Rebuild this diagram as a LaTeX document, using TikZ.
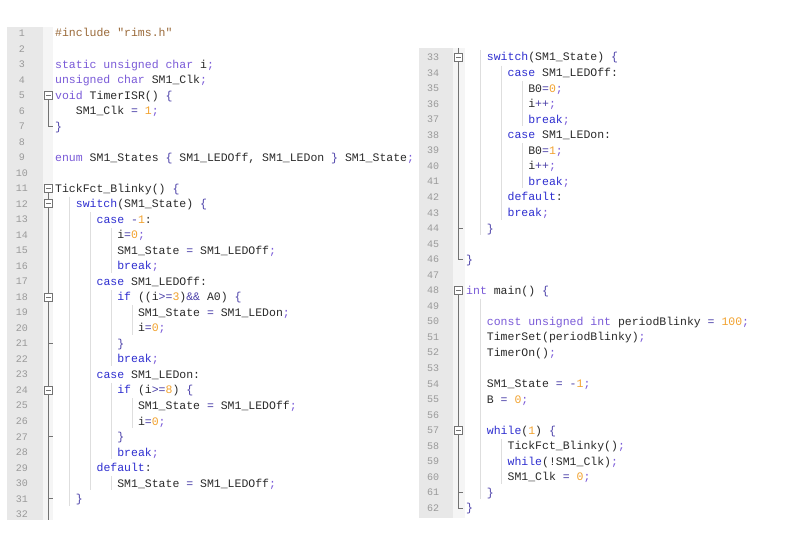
\documentclass[tikz,border=0pt]{standalone}
\usepackage{fontspec}
\newfontfamily\codefont{Liberation Mono}
\definecolor{kwc}{HTML}{2E2ED0}
\definecolor{tyc}{HTML}{7A5AD8}
\definecolor{nmc}{HTML}{F2A22E}
\definecolor{ppc}{HTML}{9A6A3A}
\definecolor{opc}{HTML}{4A3FA8}
\definecolor{txc}{HTML}{2A2A2A}
\definecolor{lnc}{HTML}{9A9A9A}
\newcommand\Kw[1]{\textcolor{kwc}{#1}}
\newcommand\Ty[1]{\textcolor{tyc}{#1}}
\newcommand\Nm[1]{\textcolor{nmc}{#1}}
\newcommand\Op[1]{\textcolor{opc}{#1}}
\newcommand\Sc{\textcolor{tyc}{;}}
\tikzset{
  codeln/.style={anchor=base west,inner sep=0pt,font=\codefont\fontsize{11.5}{12}\selectfont,text=txc},
  lnum/.style={anchor=base,inner sep=0pt,font=\codefont\fontsize{10}{11}\selectfont,text=lnc},
  foldln/.style={draw=black!55,line width=0.6pt},
  guide/.style={draw=black!13,line width=0.6pt},
  foldbox/.style={draw=black!55,fill=white,line width=0.6pt}
}
\begin{document}
\begin{tikzpicture}[x=1pt,y=-1pt]
\useasboundingbox (0,0) rectangle (807,535);
\fill[white] (0,0) rectangle (807,535);
% gutters
\fill[black!9] (7,27) rectangle (43,520);
\fill[black!4] (43,27) rectangle (53,520);
\fill[black!9] (419,48) rectangle (453,518);
\fill[black!4] (453,48) rectangle (465,518);
% ---- left panel
\def\LY#1{33+(#1-1)*15.52}
\def\CX#1{55+#1*6.9}
\foreach \n in {1,...,32} \node[lnum] (ln\n) at (22,{\LY{\n}+3.5}) {\n};
% guides
\foreach \c/\a/\b in {3/12/31,6/13/30,9/14/16,9/18/22,9/24/28,9/30/30,12/19/20,12/25/26}
  \draw[guide] ({\CX{\c}-6},{\LY{\a}-7}) -- ({\CX{\c}-6},{\LY{\b}+7});
% fold markers
\coordinate (fa) at (48.5,{\LY{5}});
\draw[foldln] (fa) -- (48.5,{\LY{7}}) -- (53,{\LY{7}});
\draw[foldln] (48.5,{\LY{11}}) -- (48.5,520);
\foreach \l in {21,27,31} \draw[foldln] (48.5,{\LY{\l}}) -- (52.5,{\LY{\l}});
\foreach \l in {5,11,12,18,24}{
  \draw[foldbox] (44.5,{\LY{\l}-4}) rectangle (52.5,{\LY{\l}+4});
  \draw[foldln] (46.3,{\LY{\l}}) -- (50.7,{\LY{\l}});}
% code
\def\L#1#2#3{\node[codeln] (c#1) at ({\CX{#2}},{\LY{#1}+4}) {#3};}
\L{1}{0}{\textcolor{ppc}{\#include "rims.h"}}
\L{3}{0}{\Ty{static unsigned char} i\Sc}
\L{4}{0}{\Ty{unsigned char} SM1\_Clk\Sc}
\L{5}{0}{\Ty{void} TimerISR() \Op{\{}}
\L{6}{3}{SM1\_Clk \Op{=} \Nm{1}\Sc}
\L{7}{0}{\Op{\}}}
\L{9}{0}{\Ty{enum} SM1\_States \Op{\{} SM1\_LEDOff, SM1\_LEDon \Op{\}} SM1\_State\Sc}
\L{11}{0}{TickFct\_Blinky() \Op{\{}}
\L{12}{3}{\Kw{switch}(SM1\_State) \Op{\{}}
\L{13}{6}{\Kw{case} \Op{-}\Nm{1}:}
\L{14}{9}{i\Op{=}\Nm{0}\Sc}
\L{15}{9}{SM1\_State \Op{=} SM1\_LEDOff\Sc}
\L{16}{9}{\Kw{break}\Sc}
\L{17}{6}{\Kw{case} SM1\_LEDOff:}
\L{18}{9}{\Kw{if} ((i\Op{>=}\Nm{3})\Op{\&\&} A0) \Op{\{}}
\L{19}{12}{SM1\_State \Op{=} SM1\_LEDon\Sc}
\L{20}{12}{i\Op{=}\Nm{0}\Sc}
\L{21}{9}{\Op{\}}}
\L{22}{9}{\Kw{break}\Sc}
\L{23}{6}{\Kw{case} SM1\_LEDon:}
\L{24}{9}{\Kw{if} (i\Op{>=}\Nm{8}) \Op{\{}}
\L{25}{12}{SM1\_State \Op{=} SM1\_LEDOff\Sc}
\L{26}{12}{i\Op{=}\Nm{0}\Sc}
\L{27}{9}{\Op{\}}}
\L{28}{9}{\Kw{break}\Sc}
\L{29}{6}{\Kw{default}:}
\L{30}{9}{SM1\_State \Op{=} SM1\_LEDOff\Sc}
\L{31}{3}{\Op{\}}}
% ---- right panel
\def\LY#1{57+(#1-33)*15.55}
\def\CX#1{466+#1*6.9}
\foreach \n in {33,...,62} \node[lnum] (ln\n) at (433,{\LY{\n}+3.5}) {\n};
\foreach \c/\a/\b in {3/33/44,6/34/43,9/35/37,9/39/41,3/49/61,6/58/60}
  \draw[guide] ({\CX{\c}-6},{\LY{\a}-7}) -- ({\CX{\c}-6},{\LY{\b}+7});
\draw[foldln] (458.5,48) -- (458.5,{\LY{46}}) -- (463,{\LY{46}});
\draw[foldln] (458.5,{\LY{48}}) -- (458.5,{\LY{62}}) -- (463,{\LY{62}});
\foreach \l in {44,61} \draw[foldln] (458.5,{\LY{\l}}) -- (462.5,{\LY{\l}});
\foreach \l in {33,48,57}{
  \draw[foldbox] (454.5,{\LY{\l}-4}) rectangle (462.5,{\LY{\l}+4});
  \draw[foldln] (456.3,{\LY{\l}}) -- (460.7,{\LY{\l}});}
\L{33}{3}{\Kw{switch}(SM1\_State) \Op{\{}}
\L{34}{6}{\Kw{case} SM1\_LEDOff:}
\L{35}{9}{B0\Op{=}\Nm{0}\Sc}
\L{36}{9}{i\Op{++}\Sc}
\L{37}{9}{\Kw{break}\Sc}
\L{38}{6}{\Kw{case} SM1\_LEDon:}
\L{39}{9}{B0\Op{=}\Nm{1}\Sc}
\L{40}{9}{i\Op{++}\Sc}
\L{41}{9}{\Kw{break}\Sc}
\L{42}{6}{\Kw{default}:}
\L{43}{6}{\Kw{break}\Sc}
\L{44}{3}{\Op{\}}}
\L{46}{0}{\Op{\}}}
\L{48}{0}{\Ty{int} main() \Op{\{}}
\L{50}{3}{\Ty{const unsigned int} periodBlinky \Op{=} \Nm{100}\Sc}
\L{51}{3}{TimerSet(periodBlinky)\Sc}
\L{52}{3}{TimerOn()\Sc}
\L{54}{3}{SM1\_State \Op{=} \Op{-}\Nm{1}\Sc}
\L{55}{3}{B \Op{=} \Nm{0}\Sc}
\L{57}{3}{\Kw{while}(\Nm{1}) \Op{\{}}
\L{58}{6}{TickFct\_Blinky()\Sc}
\L{59}{6}{\Kw{while}(!SM1\_Clk)\Sc}
\L{60}{6}{SM1\_Clk \Op{=} \Nm{0}\Sc}
\L{61}{3}{\Op{\}}}
\L{62}{0}{\Op{\}}}
\end{tikzpicture}
\end{document}
